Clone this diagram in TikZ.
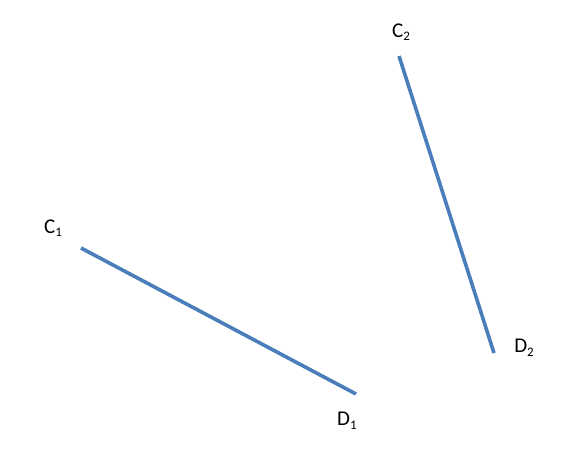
\documentclass[tikz,border=0pt]{standalone}
\usepackage{fontspec}
\setmainfont{Carlito}
\definecolor{lineblue}{HTML}{4A7EBB}
\newcommand{\lbl}[2]{#1\raisebox{-0.35ex}{\fontsize{13}{13}\selectfont #2}}
\begin{document}
\begin{tikzpicture}[x=1pt,y=-1pt,
  seg/.style={draw=lineblue,line width=3.6pt},
  lab/.style={inner sep=0pt,font=\fontsize{21}{24}\selectfont}]
\useasboundingbox (0,0) rectangle (565,472);
\coordinate (c1) at (81,248);
\coordinate (d1) at (356,394);
\coordinate (c2) at (399,56);
\coordinate (d2) at (494,353);
\draw[seg] (c1) -- (d1);
\draw[seg] (c2) -- (d2);
\node[lab] (lc1) at (53,228) {\lbl{C}{1}};
\node[lab] (ld1) at (347,421) {\lbl{D}{1}};
\node[lab] (lc2) at (401,32) {\lbl{C}{2}};
\node[lab] (ld2) at (524,348) {\lbl{D}{2}};
\end{tikzpicture}
\end{document}
